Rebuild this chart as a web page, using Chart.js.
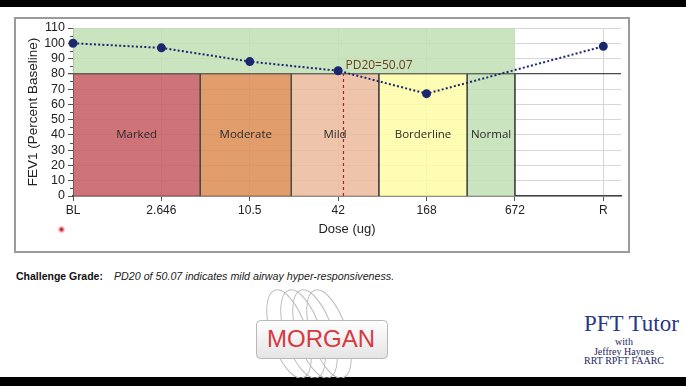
<!DOCTYPE html>
<html>
<head>
<meta charset="utf-8">
<script src="https://cdn.jsdelivr.net/npm/chart.js@4.4.1/dist/chart.umd.min.js"></script>
<style>
  html, body { margin: 0; padding: 0; background: #fff; }
  body { width: 686px; height: 386px; position: relative; overflow: hidden; font-family: "Liberation Sans", Arial, sans-serif; }
  .bar { position: absolute; left: 0; width: 686px; background: #000; }
  .box { position: absolute; left: 14px; top: 17px; width: 616px; height: 236px; box-sizing: border-box; border: 2px solid #9a9a9a; }
  #chart { position: absolute; left: 17px; top: 20px; }
  .dot { position: absolute; left: 58px; top: 226px; width: 7px; height: 7px; border-radius: 50%;
         background: radial-gradient(circle, #c8283a 0 22%, #f7b3bb 50%, rgba(255,210,220,0.2) 100%); }
  .grade { position: absolute; left: 16px; top: 270px; font-size: 10.5px; color: #111; white-space: nowrap; }
  .grade b { font-weight: bold; }
  .grade i { margin-left: 11px; color: #222; font-size: 10.7px; }
  .logo { position: absolute; left: 240px; top: 284px; }
  .pft-big { position: absolute; left: 584px; top: 311px; font-family: "Liberation Serif", "DejaVu Serif", serif;
             font-size: 23px; line-height: 26px; color: #2a3688; white-space: nowrap; }
  .pft-small { position: absolute; left: 572px; top: 337px; width: 104px; text-align: center;
               font-family: "Liberation Serif", "DejaVu Serif", serif; font-size: 10px; line-height: 9.6px; color: #1d2660; }
</style>
</head>
<body>
<div class="bar" style="top:0;height:7px"></div>
<div class="bar" style="top:377px;height:9px"></div>
<div class="box"></div>
<canvas id="chart" width="610" height="230"></canvas>
<div class="dot"></div>

<div class="grade"><b>Challenge Grade:</b><i>PD20 of 50.07 indicates mild airway hyper-responsiveness.</i></div>

<svg class="logo" width="160" height="94" viewBox="0 0 160 94">
  <g fill="none" stroke="#bdbdbd" stroke-width="1">
    <ellipse cx="49" cy="50" rx="18" ry="46" transform="rotate(-18 49 50)"/>
    <ellipse cx="63" cy="50" rx="18" ry="46" transform="rotate(-18 63 50)"/>
    <ellipse cx="75" cy="50" rx="18" ry="46" transform="rotate(-18 75 50)"/>
    <ellipse cx="89" cy="50" rx="18" ry="46" transform="rotate(-18 89 50)"/>
  </g>
  <defs>
    <linearGradient id="g" x1="0" y1="0" x2="0" y2="1">
      <stop offset="0" stop-color="#ffffff"/>
      <stop offset="1" stop-color="#e4e4e4"/>
    </linearGradient>
  </defs>
  <rect x="16.5" y="36.5" width="131" height="38" rx="4" fill="url(#g)" stroke="#b8b8b8"/>
  <text x="81" y="63" text-anchor="middle" font-family="Liberation Sans, Arial, sans-serif" font-size="24" fill="#d63a40">MORGAN</text>
</svg>

<div class="pft-big">PFT Tutor</div>
<div class="pft-small">with<br>Jeffrey Haynes<br>RRT RPFT FAARC</div>

<script>
// dose steps on the x axis (one tick per step)
const doseLabels = ['BL', '2.646', '10.5', '42', '168', '672', 'R'];

// measured FEV1 (% baseline) and the dose step each was taken at
const measuredStep = [0, 1, 2, 3, 4, 6];
const fev1 = [100, 97, 88, 82, 67, 98];

// response grade zones (in dose-step units) below the 80% line
const zoneNames = ['Marked', 'Moderate', 'Mild', 'Borderline', 'Normal'];
const zoneStart = [0, 1.44, 2.47, 3.46, 4.46];
const zoneEnd = [1.44, 2.47, 3.46, 4.46, 5];
const zoneColors = ['rgba(197,92,96,0.85)', 'rgba(221,140,84,0.85)', 'rgba(235,187,155,0.85)',
                    'rgba(255,251,167,0.85)', 'rgba(192,223,179,0.85)'];

const threshold = 80;
const pd20Step = 3.06;
const pd20Text = 'PD20=50.07';

const fevPoints = measuredStep.map((s, i) => ({ x: s, y: fev1[i] }));

const zoneSets = zoneNames.map((name, i) => ({
  label: name,
  data: [
    { x: zoneStart[i], y: 0 }, { x: zoneStart[i], y: threshold },
    { x: zoneEnd[i], y: threshold }, { x: zoneEnd[i], y: 0 }
  ],
  borderColor: '#4a4a4a',
  borderWidth: 1,
  backgroundColor: zoneColors[i],
  fill: 'origin',
  pointRadius: 0,
  tension: 0
}));

const labelsPlugin = {
  id: 'labelsPlugin',
  afterDatasetsDraw(chart) {
    const { ctx, scales: { x, y } } = chart;
    ctx.save();
    ctx.font = '11.5px "Open Sans"';
    ctx.fillStyle = '#2a2a2a';
    ctx.textAlign = 'center';
    ctx.textBaseline = 'middle';
    zoneNames.forEach((name, i) => {
      ctx.fillText(name, x.getPixelForValue((zoneStart[i] + zoneEnd[i]) / 2), y.getPixelForValue(40));
    });
    ctx.font = '12px "Open Sans"';
    ctx.fillStyle = '#6b3c1c';
    ctx.textAlign = 'left';
    ctx.fillText(pd20Text, x.getPixelForValue(pd20Step) + 2, y.getPixelForValue(85.5));
    ctx.restore();
  },
  afterDraw(chart) {
    // minor ticks on the y axis
    const { ctx, scales: { y }, chartArea } = chart;
    ctx.save();
    ctx.strokeStyle = '#555';
    ctx.lineWidth = 1;
    for (let v = 5; v < 110; v += 10) {
      const py = Math.round(y.getPixelForValue(v)) + 0.5;
      ctx.beginPath();
      ctx.moveTo(chartArea.left - 3, py);
      ctx.lineTo(chartArea.left, py);
      ctx.stroke();
    }
    ctx.restore();
  }
};

new Chart(document.getElementById('chart'), {
  type: 'line',
  data: {
    datasets: [
      {
        label: 'FEV1',
        data: fevPoints,
        borderColor: '#1b2870',
        borderWidth: 2,
        borderDash: [2, 2.2],
        pointRadius: 3.5,
        pointBackgroundColor: '#1b2870',
        pointBorderColor: '#1b2870',
        fill: false,
        tension: 0,
        clip: false
      },
      {
        label: 'PD20',
        data: [{ x: pd20Step, y: 0 }, { x: pd20Step, y: threshold }],
        borderColor: '#a8202a',
        borderWidth: 1.2,
        borderDash: [3, 3],
        pointRadius: 0,
        fill: false
      },
      ...zoneSets,
      {
        label: 'Above',
        data: [{ x: 0, y: threshold }, { x: 0, y: 110 }, { x: 5, y: 110 }, { x: 5, y: threshold }],
        borderWidth: 0,
        borderColor: 'rgba(0,0,0,0)',
        backgroundColor: 'rgba(192,223,179,0.85)',
        fill: { value: threshold },
        pointRadius: 0
      }
    ]
  },
  options: {
    responsive: false,
    animation: false,
    layout: { padding: { top: 8, right: 6, left: 0, bottom: 0 } },
    plugins: { legend: { display: false }, tooltip: { enabled: false } },
    scales: {
      x: {
        type: 'linear',
        min: 0,
        max: 6.2,
        afterFit: s => { s.height = 54; },
        border: { color: '#444', width: 1.5 },
        grid: { color: '#d6d6d6', tickColor: '#555', tickLength: 5 },
        ticks: {
          stepSize: 1,
          includeBounds: false,
          autoSkip: false,
          maxRotation: 0,
          padding: 2,
          color: '#222',
          font: { family: '"Liberation Sans"', size: 12 },
          callback: v => doseLabels[v] ?? ''
        },
        title: {
          display: true,
          text: 'Dose (ug)',
          color: '#222',
          font: { family: '"Liberation Sans"', size: 13 },
          padding: { top: 0, bottom: 13 }
        }
      },
      y: {
        min: 0,
        max: 110,
        afterFit: s => { s.width = 56; s.paddingTop = 0; s.paddingBottom = 0; },
        border: { color: '#444', width: 1 },
        grid: {
          color: c => (c.tick && c.tick.value === threshold ? '#4a4a4a' : '#d6d6d6'),
          lineWidth: c => (c.tick && c.tick.value === threshold ? 1.3 : 1),
          tickColor: '#555',
          tickLength: 5
        },
        ticks: {
          stepSize: 10,
          autoSkip: false,
          padding: 3,
          color: '#222',
          font: { family: '"Liberation Sans"', size: 12.5 }
        },
        title: {
          display: true,
          text: 'FEV1 (Percent Baseline)',
          color: '#222',
          font: { family: '"Liberation Sans"', size: 13.5 },
          padding: { top: 8, bottom: 0 }
        }
      }
    }
  },
  plugins: [labelsPlugin]
});
</script>
</body>
</html>
